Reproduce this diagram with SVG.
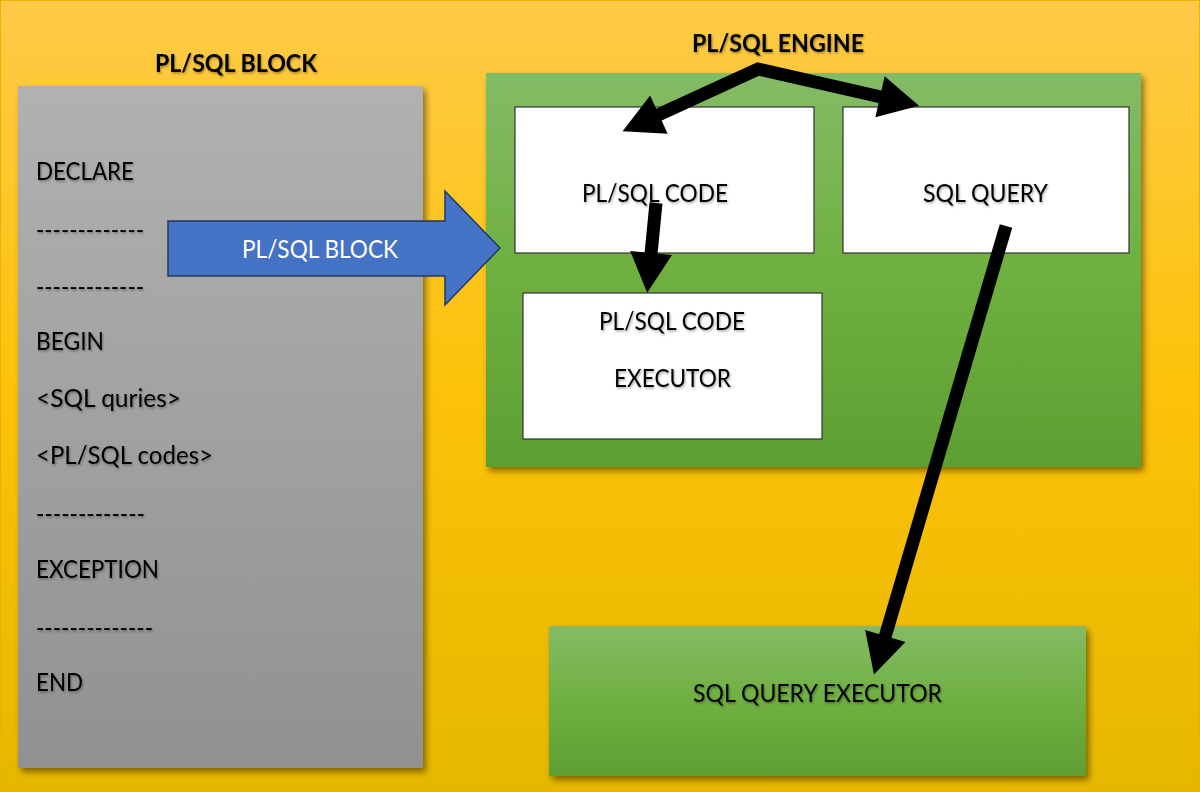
<svg xmlns="http://www.w3.org/2000/svg" width="1200" height="792" viewBox="0 0 1200 792">
<defs>
  <linearGradient id="bg" x1="0" y1="0" x2="0" y2="1">
    <stop offset="0" stop-color="#FFCA48"/>
    <stop offset="0.5" stop-color="#FCC208"/>
    <stop offset="1" stop-color="#E6B700"/>
  </linearGradient>
  <linearGradient id="gray" x1="0" y1="0" x2="0" y2="1">
    <stop offset="0" stop-color="#B1B1B1"/>
    <stop offset="1" stop-color="#919191"/>
  </linearGradient>
  <linearGradient id="green" x1="0" y1="0" x2="0" y2="1">
    <stop offset="0" stop-color="#84BB66"/>
    <stop offset="0.5" stop-color="#6FB040"/>
    <stop offset="1" stop-color="#5E9F33"/>
  </linearGradient>
  <filter id="shadow" x="-5%" y="-5%" width="112%" height="115%">
    <feDropShadow dx="3" dy="4" stdDeviation="3" flood-color="#000" flood-opacity="0.45"/>
  </filter>
  <filter id="tshadow" x="-5%" y="-20%" width="110%" height="150%">
    <feDropShadow dx="1" dy="1.5" stdDeviation="1" flood-color="#000" flood-opacity="0.35"/>
  </filter>
  <marker id="head" markerUnits="userSpaceOnUse" markerWidth="42" markerHeight="44" viewBox="0 -22 42 44" refX="0" refY="0" orient="auto-start-reverse" overflow="visible">
    <path d="M-1,-21 L39,0 L-1,21 Z" fill="#000"/>
  </marker>
  <style>
    .t { font-family: "Lato", "Open Sans", "Liberation Sans", sans-serif; font-size: 25px; fill: #000; filter: url(#tshadow); }
    .b { font-weight: bold; }
    .w { fill: #FFFFFF; }
    .box { fill: #FFFFFF; stroke: #333333; stroke-width: 1.2; }
    .conn { fill: none; stroke: #000; stroke-width: 13; stroke-linejoin: miter; stroke-miterlimit: 10; }
  </style>
</defs>

<rect x="0" y="0" width="1200" height="792" fill="url(#bg)" stroke="#EDB000" stroke-width="2"/>

<g id="title-block">
  <text class="t b" x="155" y="72" textLength="162" lengthAdjust="spacingAndGlyphs">PL/SQL BLOCK</text>
</g>
<g id="title-engine">
  <text class="t b" x="692" y="52" textLength="172" lengthAdjust="spacingAndGlyphs">PL/SQL ENGINE</text>
</g>

<g id="plsql-block">
  <rect x="18" y="86" width="405" height="682" fill="url(#gray)" filter="url(#shadow)"/>
  <text class="t" x="36" y="180" textLength="98" lengthAdjust="spacingAndGlyphs">DECLARE</text>
  <text class="t" x="36" y="239" textLength="108" lengthAdjust="spacingAndGlyphs">-------------</text>
  <text class="t" x="36" y="296" textLength="108" lengthAdjust="spacingAndGlyphs">-------------</text>
  <text class="t" x="36" y="350" textLength="68" lengthAdjust="spacingAndGlyphs">BEGIN</text>
  <text class="t" x="36" y="407" textLength="145" lengthAdjust="spacingAndGlyphs">&lt;SQL quries&gt;</text>
  <text class="t" x="36" y="464" textLength="177" lengthAdjust="spacingAndGlyphs">&lt;PL/SQL codes&gt;</text>
  <text class="t" x="36" y="523" textLength="109" lengthAdjust="spacingAndGlyphs">-------------</text>
  <text class="t" x="36" y="578" textLength="123" lengthAdjust="spacingAndGlyphs">EXCEPTION</text>
  <text class="t" x="36" y="637" textLength="117" lengthAdjust="spacingAndGlyphs">--------------</text>
  <text class="t" x="36" y="691" textLength="47" lengthAdjust="spacingAndGlyphs">END</text>
</g>

<g id="engine">
  <rect x="486" y="73" width="655" height="394" fill="url(#green)" filter="url(#shadow)"/>
</g>

<g id="plsql-code">
  <rect class="box" x="515" y="107" width="299" height="146"/>
  <text class="t" x="582" y="202" textLength="146" lengthAdjust="spacingAndGlyphs">PL/SQL CODE</text>
</g>

<g id="sql-query">
  <rect class="box" x="843" y="107" width="286" height="146"/>
  <text class="t" x="923" y="202" textLength="125" lengthAdjust="spacingAndGlyphs">SQL QUERY</text>
</g>

<g id="plsql-executor">
  <rect class="box" x="523" y="293" width="299" height="146"/>
  <text class="t" x="599" y="330" textLength="146" lengthAdjust="spacingAndGlyphs">PL/SQL CODE</text>
  <text class="t" x="614" y="387" textLength="117" lengthAdjust="spacingAndGlyphs">EXECUTOR</text>
</g>

<g id="sql-executor">
  <rect x="549" y="626" width="537" height="150" fill="url(#green)" filter="url(#shadow)"/>
  <text class="t" x="693" y="702" textLength="249" lengthAdjust="spacingAndGlyphs">SQL QUERY EXECUTOR</text>
</g>

<g id="connectors">
  <path d="M168,221 L445,221 L445,191 L500,248 L445,305 L445,276 L168,276 Z" fill="#4472C4" stroke="#1F3864" stroke-width="1.5"/>
  <text class="t w" x="242" y="258" textLength="156" lengthAdjust="spacingAndGlyphs" style="filter:none">PL/SQL BLOCK</text>
  <path class="conn" d="M658,115 L758,69 L881,97" marker-start="url(#head)" marker-end="url(#head)"/>
  <path class="conn" d="M656,203 L651,254" stroke-width="11" marker-end="url(#head)"/>
  <path class="conn" d="M1006,226 L885,637" stroke-width="12" marker-end="url(#head)"/>
</g>
</svg>
